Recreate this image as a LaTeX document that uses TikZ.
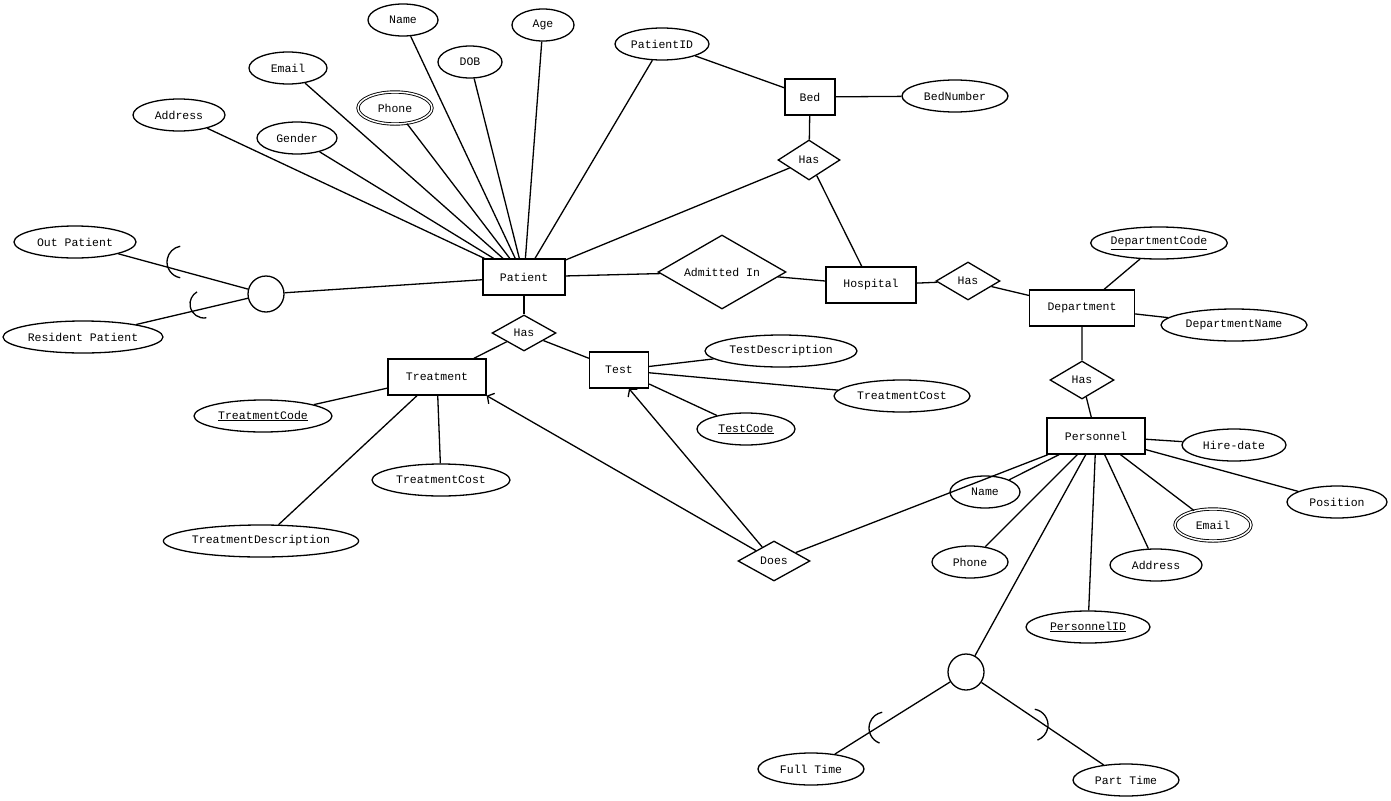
\documentclass[tikz,border=0pt]{standalone}
\usepackage{fontspec}
\setmonofont{Liberation Mono}
\usetikzlibrary{shapes.geometric,arrows.meta}
\begin{document}
\begin{tikzpicture}[x=1pt,y=-1pt,line width=1.3pt,
 every node/.style={font=\ttfamily\fontsize{11.5}{13}\selectfont,inner sep=0pt},
 ent/.style={draw,rectangle,minimum height=36pt},
 rel/.style={draw,diamond,aspect=1.7},
 att/.style={draw,ellipse,minimum height=32pt},
 datt/.style={att,double,double distance=1.5pt,line width=0.9pt},
 isa/.style={draw,circle,minimum size=36pt}]
\useasboundingbox (0,0) rectangle (1391,800);
% entities
\node[ent,minimum width=82pt] (pat) at (524,277) {Patient};
\node[ent,minimum width=50pt] (bed) at (810,97) {Bed};
\node[ent,minimum width=90pt] (hosp) at (871,285) {Hospital};
\node[ent,minimum width=105pt] (dept) at (1082,308) {Department};
\node[ent,minimum width=98pt] (treat) at (437,377) {Treatment};
\node[ent,minimum width=59pt] (test) at (619,370) {Test};
\node[ent,minimum width=98pt] (pers) at (1096,436) {Personnel};
% relationships
\node[rel,minimum width=62pt,minimum height=40pt] (hasb) at (809,160) {Has};
\node[rel,minimum width=128pt,minimum height=74pt] (adm) at (722,272) {Admitted In};
\node[rel,minimum width=64pt,minimum height=38pt] (hash) at (968,281) {Has};
\node[rel,minimum width=64pt,minimum height=38pt] (hasd) at (1082,380) {Has};
\node[rel,minimum width=64pt,minimum height=36pt] (hasp) at (524,333) {Has};
\node[rel,minimum width=72pt,minimum height=40pt] (does) at (774,561) {Does};
% isa circles
\node[isa] (c1) at (266,294) {};
\node[isa] (c2) at (966,672) {};
% attributes
\node[att,minimum width=70pt] (name) at (403,20) {Name};
\node[att,minimum width=62pt] (age) at (543,25) {Age};
\node[att,minimum width=64pt] (dob) at (470,62) {DOB};
\node[att,minimum width=78pt] (email) at (288,68) {Email};
\node[att,minimum width=94pt] (pid) at (662,44) {PatientID};
\node[datt,minimum width=74pt] (phone) at (395,108) {Phone};
\node[att,minimum width=92pt] (addr) at (179,115) {Address};
\node[att,minimum width=80pt] (gender) at (297,138) {Gender};
\node[att,minimum width=106pt] (bedn) at (955,96) {BedNumber};
\node[att,minimum width=122pt] (outp) at (75,242) {Out Patient};
\node[att,minimum width=160pt] (resp) at (83,337) {Resident Patient};
\node[att,minimum width=120pt] (dcode) at (1159,243) {\underline{DepartmentCode}};
\node[att,minimum width=146pt] (dname) at (1234,325) {DepartmentName};
\node[att,minimum width=152pt] (tdesc) at (781,351) {TestDescription};
\node[att,minimum width=136pt] (tcost1) at (902,396) {TreatmentCost};
\node[att,minimum width=98pt] (tcode) at (746,429) {\underline{TestCode}};
\node[att,minimum width=138pt] (trcode) at (263,416) {\underline{TreatmentCode}};
\node[att,minimum width=138pt] (tcost2) at (441,480) {TreatmentCost};
\node[att,minimum width=190pt] (trdesc) at (261,541) {TreatmentDescription};
\node[att,minimum width=104pt] (hire) at (1234,445) {Hire-date};
\node[att,minimum width=70pt] (pname) at (985,492) {Name};
\node[att,minimum width=100pt] (pos) at (1337,502) {Position};
\node[datt,minimum width=76pt] (pemail) at (1213,525) {Email};
\node[att,minimum width=76pt] (pphone) at (970,562) {Phone};
\node[att,minimum width=92pt] (paddr) at (1156,565) {Address};
\node[att,minimum width=124pt] (persid) at (1088,627) {\underline{PersonnelID}};
\node[att,minimum width=106pt] (full) at (811,769) {Full Time};
\node[att,minimum width=106pt] (part) at (1126,780) {Part Time};
% connectors
\foreach \a in {addr,gender,email,phone,name,dob,age,pid,hasb,adm,c1,hasp}
  \draw (pat) -- (\a);
\draw (bed) -- (pid); \draw (bed) -- (bedn); \draw (bed) -- (hasb);
\draw (hasb) -- (hosp); \draw (adm) -- (hosp);
\draw (hosp) -- (hash) -- (dept);
\draw (dept) -- (dcode); \draw (dept) -- (dname); \draw (dept) -- (hasd) -- (pers);
\foreach \a in {hire,pos,pemail,paddr,persid,pphone,pname,c2,does}
  \draw (pers) -- (\a);
\draw (c2) -- (full); \draw (c2) -- (part);
\draw (c1) -- (outp); \draw (c1) -- (resp);
\draw (hasp) -- (treat); \draw (hasp) -- (test);
\draw (test) -- (tdesc); \draw (test) -- (tcost1); \draw (test) -- (tcode);
\draw (treat) -- (trcode); \draw (treat) -- (tcost2); \draw (treat) -- (trdesc);
\draw[-{Straight Barb[length=5pt,width=12pt]}] (does) -- (treat.south east);
\draw[-{Straight Barb[length=5pt,width=12pt]}] (does) -- ([xshift=10pt]test.south);
% subset arcs
\draw ([shift={(100:16)}]183,262) arc[start angle=100,end angle=260,radius=16];
\draw ([shift={(80:14)}]204,304) arc[start angle=80,end angle=240,radius=14];
\draw ([shift={(110:16)}]885,728) arc[start angle=110,end angle=260,radius=16];
\draw ([shift={(-80:16)}]1032,725) arc[start angle=-80,end angle=70,radius=16];
\end{tikzpicture}
\end{document}
